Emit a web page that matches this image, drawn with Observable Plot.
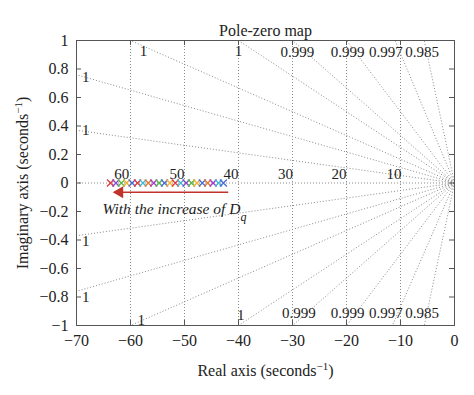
<!DOCTYPE html>
<html>
<head>
<meta charset="utf-8">
<script src="https://cdn.jsdelivr.net/npm/d3@7"></script>
<script src="https://cdn.jsdelivr.net/npm/@observablehq/plot@0.6"></script>
<style>
  html, body { margin: 0; padding: 0; background: #fff; }
  svg text { font-family: "Liberation Serif", "Times New Roman", serif; }
</style>
</head>
<body>
<div id="chart"></div>
<script>
// ---- data ----
const xTicks = [-70, -60, -50, -40, -30, -20, -10, 0];
const yTicks = [-1, -0.8, -0.6, -0.4, -0.2, 0, 0.2, 0.4, 0.6, 0.8, 1];

// natural-frequency grid (appear as vertical lines)
const freqLines = [-60, -50, -40, -30, -20, -10];
const freqLabelText = ["60", "50", "40", "30", "20", "10"];
const freqLabelX = [-61.6, -51.4, -41.4, -31.3, -21.4, -11.2];
const freqLabelY = [0.06, 0.06, 0.06, 0.06, 0.06, 0.06];

// damping rays: from origin to where they leave the box
const rayEndX = [-70, -70, -60, -40, -30, -20, -11, -5.6, -70, -70, -60, -40, -30, -20, -11.5, -5.6];
const rayEndY = [0.37, 0.76, 1, 1, 1, 1, 1, 1, -0.37, -0.76, -1, -1, -1, -1, -1, -1];

// damping labels
const dampText = ["1", "1", "1", "1", "0.999", "0.999", "0.997", "0.985",
                  "1", "1", "1", "1", "0.999", "0.999", "0.997", "0.985"];
const dampX = [-68.3, -68.3, -57.6, -40.0, -29.1, -19.8, -12.7, -6.0,
               -68.3, -68.3, -58.0, -39.6, -28.8, -19.8, -12.7, -6.0];
const dampY = [0.745, 0.37, 0.925, 0.925, 0.92, 0.92, 0.92, 0.92,
               -0.41, -0.80, -0.96, -0.93, -0.915, -0.915, -0.915, -0.915];

// poles (x markers on the real axis)
const poleX = [-63.7, -62.7, -61.7, -60.7, -59.7, -58.7, -57.7, -56.7, -55.7, -54.7, -53.7,
               -52.7, -51.7, -50.7, -49.7, -48.7, -47.7, -46.7, -45.7, -44.7, -43.7, -42.8];
const poleColor = ["#e03a3a", "#8a4ac8", "#58b848", "#f0b030", "#4a6ad8", "#e03a3a", "#40b8d8",
                   "#e07830", "#a040c8", "#58b848", "#4a6ad8", "#f0b030", "#e03a3a", "#40b8d8",
                   "#8a4ac8", "#58b848", "#f0b030", "#4a6ad8", "#e07830", "#a040c8", "#40b8d8", "#4a6ad8"];

// annotation arrow
const arrowFrom = [-41.9, -0.065];
const arrowTo = [-62.0, -0.065];
const annotText = "With the increase of D";
const annotSub = "q";
const annotPos = [-65.2, -0.185];

// ---- tables ----
const rays = rayEndX.map((x, i) => ({x1: 0, y1: 0, x2: x, y2: rayEndY[i]}));
const dampLabels = dampText.map((t, i) => ({t, x: dampX[i], y: dampY[i]}));
const freqLabels = freqLabelText.map((t, i) => ({t, x: freqLabelX[i], y: freqLabelY[i]}));
const poles = poleX.map((x, i) => ({x, y: 0, c: poleColor[i]}));

const fmt = d => d === 0 ? "0" : (d < 0 ? "\u2212" : "") + String(Math.abs(+d.toFixed(1)));
const gridStyle = {stroke: "#8a8a8a", strokeDasharray: "1,2", strokeWidth: 1};
const tickColor = "#555";

const chart = Plot.plot({
  width: 474,
  height: 395,
  marginLeft: 76,
  marginRight: 20,
  marginTop: 40,
  marginBottom: 70,
  style: {background: "#fff", color: "#222", fontFamily: "Liberation Serif", fontSize: "16px"},
  x: {domain: [-70, 0]},
  y: {domain: [-1, 1]},
  color: {type: "identity"},
  marks: [
    Plot.ruleX(freqLines, {...gridStyle}),
    Plot.ruleY([0], {...gridStyle}),
    Plot.link(rays, {x1: "x1", y1: "y1", x2: "x2", y2: "y2", ...gridStyle}),
    Plot.text(dampLabels, {x: "x", y: "y", text: "t", fontSize: 15, fill: "#222"}),
    Plot.text(freqLabels, {x: "x", y: "y", text: "t", fontSize: 15, fill: "#222"}),
    Plot.dot(poles, {x: "x", y: "y", stroke: "c", symbol: "times", r: 3.3, strokeWidth: 1.3}),
    Plot.link([{a: arrowFrom, b: arrowTo}], {x1: d => d.a[0], y1: d => d.a[1], x2: d => d.b[0], y2: d => d.b[1], stroke: "#c0322a", strokeWidth: 1.6}),
    Plot.dot([arrowTo], {x: d => d[0], y: d => d[1], symbol: "triangle", rotate: -90, r: 4.5, fill: "#c0322a", stroke: "none"}),
    Plot.text([annotText], {x: () => annotPos[0], y: () => annotPos[1], text: d => d, textAnchor: "start", fontSize: 15.5, fontStyle: "italic", fill: "#222", className: "annot"}),
    // inward ticks on all four sides
    Plot.tickX(xTicks, {x: d => d, insetTop: 280, stroke: tickColor}),
    Plot.tickX(xTicks, {x: d => d, insetBottom: 280, stroke: tickColor}),
    Plot.tickY(yTicks, {y: d => d, insetRight: 373, stroke: tickColor}),
    Plot.tickY(yTicks, {y: d => d, insetLeft: 373, stroke: tickColor}),
    Plot.axisX(xTicks, {tickSize: 0, tickPadding: 9, tickFormat: fmt, fontSize: 16,
      label: "Real axis (seconds-1)", labelAnchor: "center", labelOffset: 50, labelArrow: "none"}),
    Plot.axisY(yTicks, {tickSize: 0, tickPadding: 8, tickFormat: fmt, fontSize: 16,
      label: "Imaginary axis (seconds-1)", labelAnchor: "center", labelOffset: 60, labelArrow: "none"}),
    Plot.frame({stroke: "#555", strokeWidth: 1}),
    Plot.text(["Pole-zero map"], {frameAnchor: "top", dy: -16, text: d => d, fontSize: 16, fill: "#222"})
  ]
});
document.getElementById("chart").appendChild(chart);

// subscript / superscript fixes
const svg = d3.select(chart);
svg.selectAll(".annot text").each(function() {
  const t = d3.select(this);
  t.text(annotText);
  t.append("tspan").attr("baseline-shift", "sub").attr("font-size", "12px").text(annotSub);
});
svg.selectAll("text").each(function() {
  const t = d3.select(this);
  const s = t.text();
  if (s.endsWith("(seconds-1)")) {
    t.text(s.replace("(seconds-1)", "(seconds"));
    t.append("tspan").attr("baseline-shift", "super").attr("font-size", "11px").text("\u22121");
    t.append("tspan").text(")");
  }
});
</script>
</body>
</html>
